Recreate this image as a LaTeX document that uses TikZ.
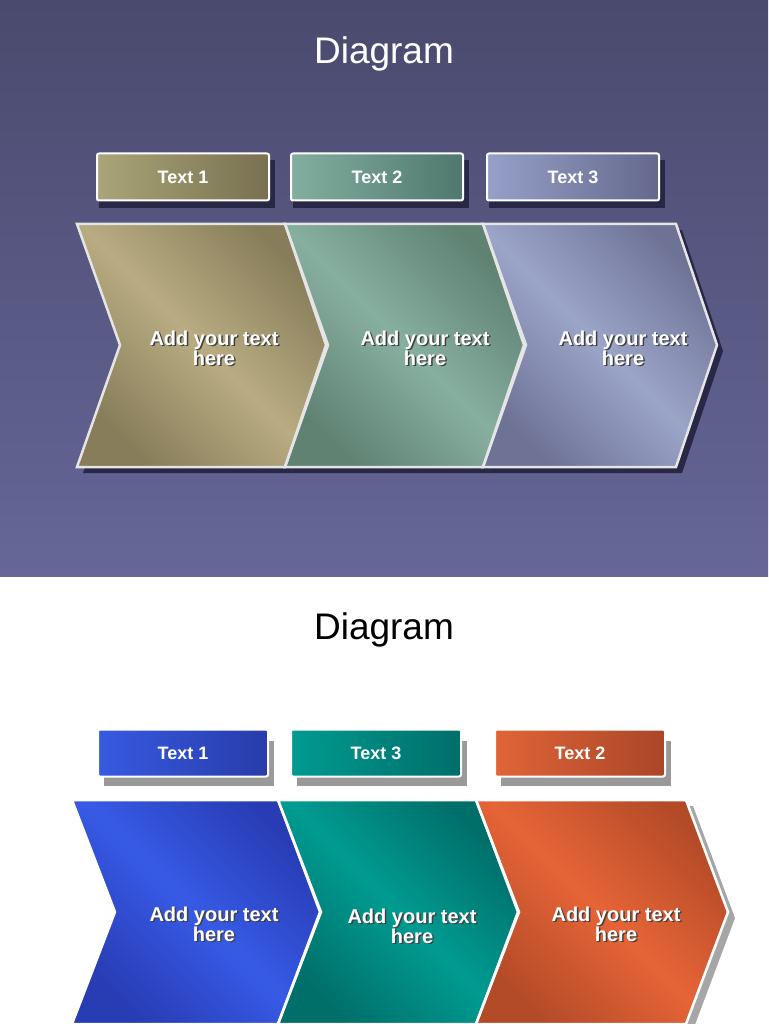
\documentclass[tikz,border=0pt]{standalone}
\usepackage{fontspec}
\setmainfont{Liberation Sans}
\definecolor{shadowblue}{RGB}{40,40,70}
\begin{document}
\begin{tikzpicture}[x=1pt,y=-1pt,
  lbl/.style={font=\bfseries\fontsize{20}{24}\selectfont,text=white,align=center},
  sh/.style={font=\bfseries\fontsize{20}{24}\selectfont,text=black!75,align=center},
  tbox/.style={draw=white,line width=2pt,rounded corners=2pt,minimum width=172pt,minimum height=47pt},
  chev/.style={draw=white!90!black,line width=2.5pt,line join=miter},
  title/.style={font=\fontsize{37}{40}\selectfont}]
\useasboundingbox (0,0) rectangle (768,1024);
\fill[top color={rgb,255:red,74;green,74;blue,110},bottom color={rgb,255:red,102;green,102;blue,152}] (0,0) rectangle (768,576);
\node[title,text=white] (t1) at (384,54) {Diagram};
\node[title,text=black] (t2) at (384,630) {Diagram};
% top boxes
\foreach \x/\a/\b/\t [count=\i] in {183/{rgb,255:red,170;green,165;blue,120}/{rgb,255:red,120;green,112;blue,80}/Text 1,377/{rgb,255:red,130;green,175;blue,160}/{rgb,255:red,80;green,120;blue,110}/Text 2,573/{rgb,255:red,150;green,160;blue,200}/{rgb,255:red,100;green,105;blue,140}/Text 3}{
  \fill[shadowblue] (\x-84,160) rectangle (\x+92,208);
  \node[tbox,left color=\a,right color=\b] (tb\i) at (\x,177) {};
  \node[lbl,font=\bfseries\fontsize{18}{20}\selectfont] (tl\i) at (tb\i) {\t};
}
% top chevrons
\foreach \x/\c/\d/\m [count=\i] in {77/{rgb,255:red,135;green,125;blue,90}/{rgb,255:red,185;green,172;blue,130}/208,285/{rgb,255:red,95;green,130;blue,115}/{rgb,255:red,135;green,175;blue,160}/198,483/{rgb,255:red,110;green,115;blue,150}/{rgb,255:red,155;green,165;blue,200}/193}{
  \fill[shadowblue] (\x+6,230)--++(\m,0)--++(41,121)--++(-41,122)--++(-\m,0)--++(43,-122)--cycle;
  \path[left color=\c,right color=\c,middle color=\d,shading angle=135] (\x,224)--++(\m,0)--++(41,121)--++(-41,122)--++(-\m,0)--++(43,-122)--cycle;
}
\foreach \x/\m in {77/208,285/198,483/193}
  \draw[chev] (\x,224)--++(\m,0)--++(41,121)--++(-41,122)--++(-\m,0)--++(43,-122)--cycle;
\foreach \x [count=\i] in {214,425,623}{
  \node[sh] at (\x+1.5,349.5) {Add your text\\[-4pt]here};
  \node[lbl] (ct\i) at (\x,348) {Add your text\\[-4pt]here};
}
% bottom boxes
\foreach \x/\a/\b/\t [count=\i] in {183/{rgb,255:red,55;green,90;blue,225}/{rgb,255:red,40;green,60;blue,170}/Text 1,376/{rgb,255:red,0;green,155;blue,145}/{rgb,255:red,0;green,110;blue,105}/Text 3,580/{rgb,255:red,225;green,100;blue,55}/{rgb,255:red,170;green,70;blue,40}/Text 2}{
  \fill[black!40] (\x-79,741) rectangle (\x+91,786);
  \node[tbox,minimum width=170pt,left color=\a,right color=\b] (bb\i) at (\x,753) {};
  \node[lbl,font=\bfseries\fontsize{18}{20}\selectfont] (bl\i) at (bb\i) {\t};
}
\begin{scope}
\clip (0,576) rectangle (768,1024);
\foreach \x/\c/\d/\m in {72/{rgb,255:red,40;green,60;blue,180}/{rgb,255:red,55;green,90;blue,230}/206,278/{rgb,255:red,0;green,110;blue,105}/{rgb,255:red,0;green,155;blue,145}/198,476/{rgb,255:red,180;green,75;blue,40}/{rgb,255:red,230;green,100;blue,55}/210}{
  \fill[black!35] (\x+7,806)--++(\m,0)--++(42,112)--++(-42,112)--++(-\m,0)--++(43,-112)--cycle;
  \path[left color=\c,right color=\c,middle color=\d,shading angle=135] (\x,800)--++(\m,0)--++(42,112)--++(-42,112)--++(-\m,0)--++(43,-112)--cycle;
}
\foreach \x/\m in {72/206,278/198,476/210}
  \draw[chev,draw=white] (\x,800)--++(\m,0)--++(42,112)--++(-42,112)--++(-\m,0)--++(43,-112)--cycle;
\end{scope}
\foreach \x/\y [count=\i] in {214/924,412/926,616/924}{
  \node[sh] at (\x+1.5,\y+1.5) {Add your text\\[-4pt]here};
  \node[lbl] (cb\i) at (\x,\y) {Add your text\\[-4pt]here};
}
\end{tikzpicture}
\end{document}
